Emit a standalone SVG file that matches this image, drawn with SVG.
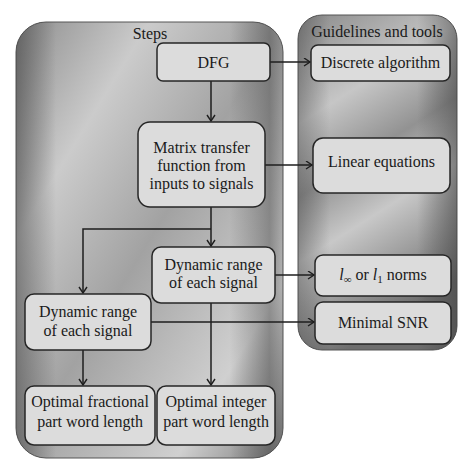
<svg xmlns="http://www.w3.org/2000/svg" width="474" height="474" viewBox="0 0 474 474">
<defs>
<style>
.box{fill:#dcdcdc;stroke:#262626;stroke-width:1.5}
.t{font-family:"Liberation Serif","DejaVu Serif","Noto Serif",serif;font-size:16px;fill:#1a1a1a;text-anchor:middle}
.c{fill:none;stroke:#1e1e1e;stroke-width:1.5}
</style>
<linearGradient id="gs" x1="0" y1="0" x2="1" y2="1">
<stop offset="0" stop-color="#8c8c8c"/>
<stop offset="0.25" stop-color="#cbcbcb"/>
<stop offset="0.5" stop-color="#a2a2a2"/>
<stop offset="0.8" stop-color="#d0d0d0"/>
<stop offset="1" stop-color="#7a7a7a"/>
</linearGradient>
<linearGradient id="ge" x1="0" y1="0" x2="1" y2="0">
<stop offset="0" stop-color="#404040" stop-opacity="0.55"/>
<stop offset="0.15" stop-color="#404040" stop-opacity="0"/>
<stop offset="0.8" stop-color="#404040" stop-opacity="0"/>
<stop offset="0.95" stop-color="#404040" stop-opacity="0.45"/>
<stop offset="1" stop-color="#404040" stop-opacity="0.2"/>
</linearGradient>
<linearGradient id="gg" x1="0" y1="0" x2="0.3" y2="1">
<stop offset="0" stop-color="#8a8a8a"/>
<stop offset="0.3" stop-color="#c6c6c6"/>
<stop offset="0.5" stop-color="#929292"/>
<stop offset="0.68" stop-color="#c8c8c8"/>
<stop offset="1" stop-color="#6e6e6e"/>
</linearGradient>
<linearGradient id="ge2" x1="0" y1="0" x2="1" y2="0">
<stop offset="0" stop-color="#404040" stop-opacity="0.4"/>
<stop offset="0.2" stop-color="#404040" stop-opacity="0"/>
<stop offset="0.75" stop-color="#404040" stop-opacity="0"/>
<stop offset="1" stop-color="#404040" stop-opacity="0.55"/>
</linearGradient>
<marker id="ah" markerUnits="userSpaceOnUse" markerWidth="10" markerHeight="10" refX="7" refY="4.5" orient="auto">
<path d="M1,0.5 L7,4.5 L1,8.5" fill="none" stroke="#1e1e1e" stroke-width="1.4"/>
</marker>
</defs>
<rect width="474" height="474" fill="#ffffff"/>
<g id="steps-container">
<rect x="16" y="22" width="267" height="436" rx="30" fill="url(#gs)" stroke="#555" stroke-width="1"/>
<rect x="16" y="22" width="267" height="436" rx="30" fill="url(#ge)"/>
<text class="t" x="150" y="39">Steps</text>
</g>
<g id="guidelines-container">
<rect x="298" y="15" width="159" height="335" rx="24" fill="url(#gg)" stroke="#555" stroke-width="1"/>
<rect x="298" y="15" width="159" height="335" rx="24" fill="url(#ge2)"/>
<text class="t" x="377" y="37">Guidelines and tools</text>
</g>
<g id="connectors">
<path class="c" d="M270,62 H310" marker-end="url(#ah)"/>
<path class="c" d="M211,81 V121" marker-end="url(#ah)"/>
<path class="c" d="M265,165 H312" marker-end="url(#ah)"/>
<path class="c" d="M211,207 V246" marker-end="url(#ah)"/>
<path class="c" d="M211,229 H83 V293" marker-end="url(#ah)"/>
<path class="c" d="M275,275 H314" marker-end="url(#ah)"/>
<path class="c" d="M151,322 H314" marker-end="url(#ah)"/>
<path class="c" d="M83,350 V385" marker-end="url(#ah)"/>
<path class="c" d="M211,303 V385" marker-end="url(#ah)"/>
</g>
<g id="dfg">
<rect class="box" x="157" y="43" width="113" height="38" rx="6"/>
<text class="t" x="213.5" y="67.5">DFG</text>
</g>
<g id="matrix">
<rect class="box" x="138" y="122" width="127" height="85" rx="12"/>
<text class="t" x="201.5" y="153">Matrix transfer</text>
<text class="t" x="201.5" y="171">function from</text>
<text class="t" x="201.5" y="189">inputs to signals</text>
</g>
<g id="dr1">
<rect class="box" x="152" y="247" width="123" height="56" rx="9"/>
<text class="t" x="213.5" y="270">Dynamic range</text>
<text class="t" x="213.5" y="288">of each signal</text>
</g>
<g id="dr2">
<rect class="box" x="25" y="294" width="126" height="56" rx="9"/>
<text class="t" x="88" y="317">Dynamic range</text>
<text class="t" x="88" y="336">of each signal</text>
</g>
<g id="frac">
<rect class="box" x="25" y="386" width="130" height="59" rx="9"/>
<text class="t" x="90" y="407">Optimal fractional</text>
<text class="t" x="90" y="427">part word length</text>
</g>
<g id="int">
<rect class="box" x="157" y="386" width="118" height="59" rx="9"/>
<text class="t" x="216" y="407">Optimal integer</text>
<text class="t" x="216" y="427">part word length</text>
</g>
<g id="discrete">
<rect class="box" x="311" y="45" width="139" height="36" rx="7"/>
<text class="t" x="380.5" y="67.5">Discrete algorithm</text>
</g>
<g id="linear">
<rect class="box" x="313" y="138" width="137" height="55" rx="10"/>
<text class="t" x="381.5" y="167">Linear equations</text>
</g>
<g id="norms">
<rect class="box" x="315" y="255" width="136" height="41" rx="8"/>
<text class="t" x="383" y="280"><tspan font-style="italic">l</tspan><tspan font-size="11" dy="3">∞</tspan><tspan dy="-3"> or </tspan><tspan font-style="italic">l</tspan><tspan font-size="11" dy="3">1</tspan><tspan dy="-3"> norms</tspan></text>
</g>
<g id="snr">
<rect class="box" x="315" y="302" width="136" height="42" rx="8"/>
<text class="t" x="383" y="328">Minimal SNR</text>
</g>
</svg>
